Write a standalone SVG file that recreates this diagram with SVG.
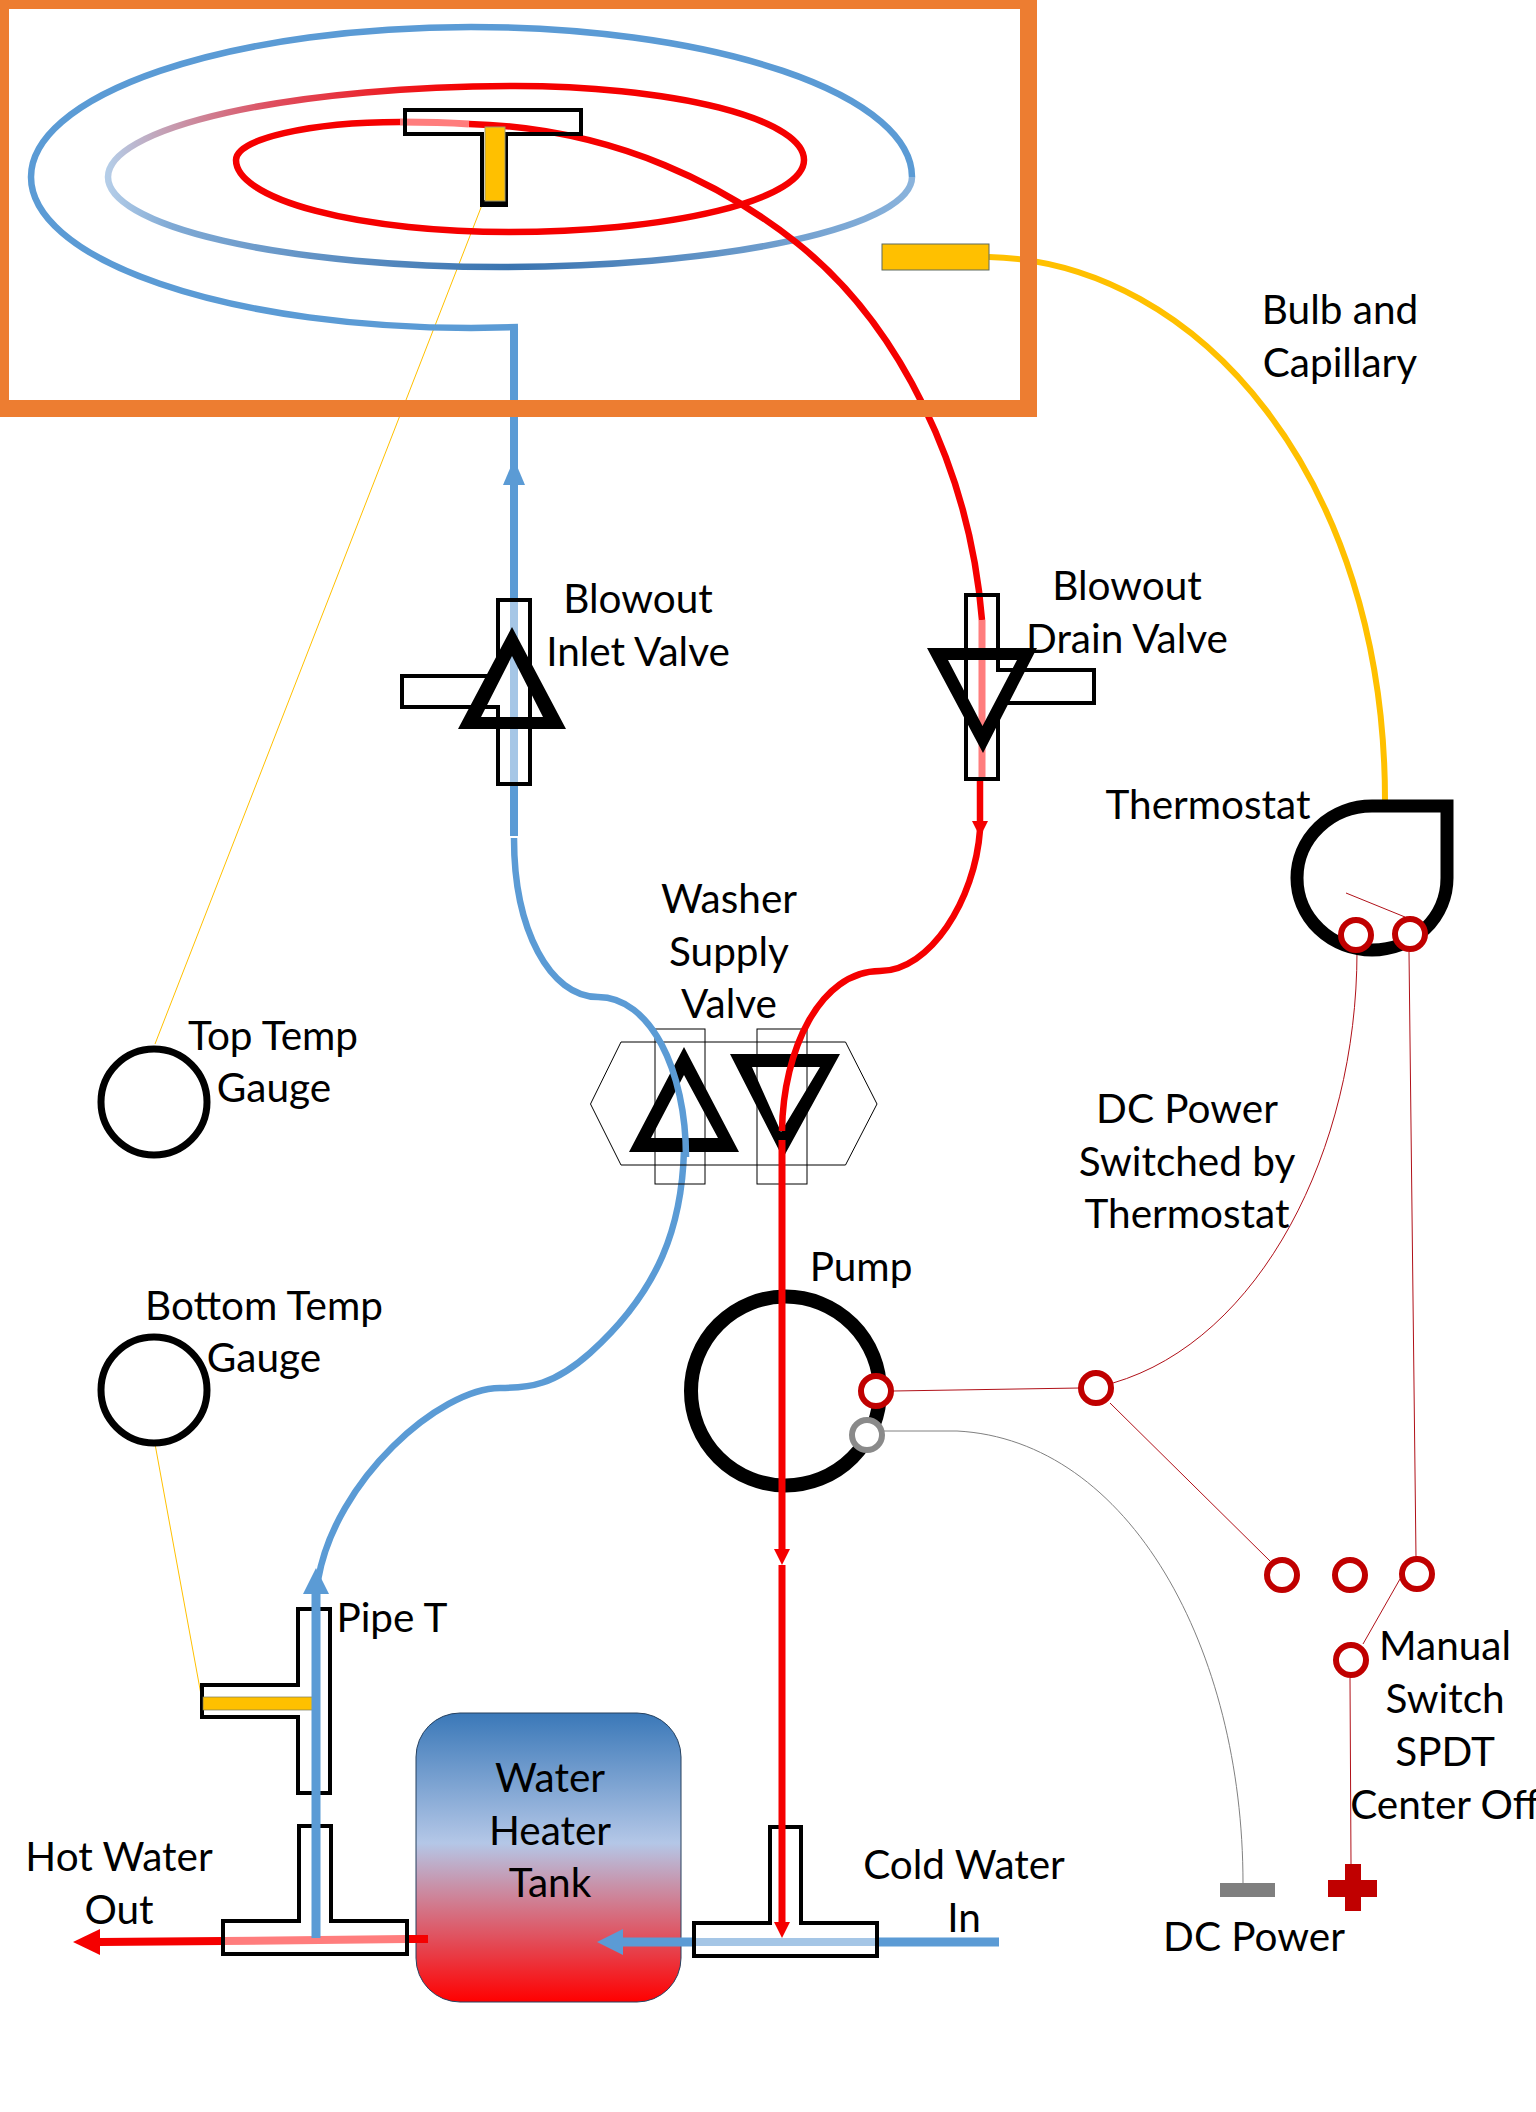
<svg xmlns="http://www.w3.org/2000/svg" width="1536" height="2112" viewBox="0 0 1536 2112">
<style>
text{font-family:"Lato","Carlito","Liberation Sans",sans-serif;font-size:40.5px;fill:#000;text-anchor:middle}
.p{fill:none;stroke-linejoin:miter}
.blue{stroke:#5b9bd5;stroke-width:6.5}
.blue8{stroke:#5b9bd5;stroke-width:8}
.bluew{stroke:#5b9bd5;stroke-width:9}
.lblue{stroke:#a5c6e6;stroke-width:8}
.red{stroke:#f50000;stroke-width:6.5}
.redw{stroke:#f50000;stroke-width:7}
.lred{stroke:#ff7d7d;stroke-width:7}
.hot{stroke:#f50000;stroke-width:8}
.gold{stroke:#ffc000;stroke-width:1}
.wire{stroke:#b01018;stroke-width:1}
.gwire{stroke:#808080;stroke-width:1}
.fit{fill:none;stroke:#000;stroke-width:4;stroke-linejoin:miter}
.thin{fill:none;stroke:#000;stroke-width:1}
.tri{fill:#000;fill-rule:evenodd}
.t{fill:#fff;stroke:#c00000;stroke-width:6}
.tg{fill:#fff;stroke:#8a8a8a;stroke-width:6}
.gauge{fill:#fff;stroke:#000;stroke-width:7}
</style>
<defs>
<linearGradient id="gInnerTop" gradientUnits="userSpaceOnUse" x1="108" y1="0" x2="510" y2="0">
<stop offset="0" stop-color="#b4cde8"/><stop offset=".13" stop-color="#c3a3b8"/><stop offset=".4" stop-color="#de4f60"/><stop offset=".9" stop-color="#f50000"/>
</linearGradient>
<linearGradient id="gInnerBottom" gradientUnits="userSpaceOnUse" x1="108" y1="0" x2="912" y2="0">
<stop offset="0" stop-color="#b4cde8"/><stop offset=".08" stop-color="#7fa9d4"/><stop offset=".5" stop-color="#3a74b0"/><stop offset="1" stop-color="#8ab3dc"/>
</linearGradient>
<linearGradient id="gTank" x1="0" y1="0" x2="0" y2="1">
<stop offset="0" stop-color="#3a78b8"/><stop offset=".45" stop-color="#b4c7e7"/><stop offset="1" stop-color="#ff0000"/>
</linearGradient>
<marker id="aBlue" markerUnits="userSpaceOnUse" markerWidth="26" markerHeight="26" refX="0" refY="13" orient="auto"><path d="M0,0L26,13L0,26z" fill="#5b9bd5"/></marker>
<marker id="aBlueS" markerUnits="userSpaceOnUse" markerWidth="26" markerHeight="22" refX="0" refY="11" orient="auto"><path d="M0,0L26,11L0,22z" fill="#5b9bd5"/></marker>
<marker id="aRed" markerUnits="userSpaceOnUse" markerWidth="27" markerHeight="26" refX="0" refY="13" orient="auto"><path d="M0,0L27,13L0,26z" fill="#f50000"/></marker>
<marker id="aRedS" markerUnits="userSpaceOnUse" markerWidth="16" markerHeight="16" refX="0" refY="8" orient="auto"><path d="M0,0L16,8L0,16z" fill="#f50000"/></marker>
</defs>
<rect width="1536" height="2112" fill="#fff"/>

<g id="tank">
<rect x="416" y="1713" width="265" height="289" rx="44" ry="44" fill="url(#gTank)" stroke="#26415f" stroke-width="1"/>
<text x="550" y="1792">Water</text><text x="550" y="1845">Heater</text><text x="550" y="1897">Tank</text>
</g>

<g id="connectors">
<path class="p gold" d="M482,205L155,1044"/>
<path class="p gold" d="M155,1444L202,1700"/>
<path class="p blue" d="M912,177A441,150 0 0 0 471,27A440,150 0 0 0 31,177A440,151 0 0 0 471,328L518,327"/>
<path class="p" stroke="url(#gInnerBottom)" stroke-width="6.5" d="M912,177A412,90 0 0 1 500,267A392,90 0 0 1 108,177"/>
<path class="p" stroke="url(#gInnerTop)" stroke-width="6.5" d="M108,177A407,91 0 0 1 515,86"/>
<path class="p red" d="M515,86A289,74 0 0 1 804,160A295,72 0 0 1 509,232A273,72 0 0 1 236,160A164,38 0 0 1 400,122"/>
<path class="p lred" d="M400,122Q440,122 469,124"/>
<path class="p red" d="M469,124C620,128 730,190 797,243C900,325 970,470 982,620"/>
<path class="p blue8" d="M514,600V485" marker-end="url(#aBlueS)"/>
<path class="p blue8" d="M514,485V328"/>
<path class="p lblue" d="M514,600V784"/>
<path class="p blue8" d="M514,784V836"/>
<path class="p lred" d="M982,620V779"/>
<path class="p red" d="M980,779V821" marker-end="url(#aRedS)"/>
<path class="p hot" d="M100,1942L223,1941"/>
<polygon points="73,1942 100,1929 100,1955" fill="#f50000"/>
<path class="p" stroke="#ff7d7d" stroke-width="8" d="M223,1941L407,1939"/>
<path class="p hot" d="M407,1939H428"/>
<path class="p bluew" d="M999,1942H877"/>
<path class="p lblue" d="M877,1942H694"/>
<path class="p bluew" d="M694,1942H623" marker-end="url(#aBlue)"/>
<path class="p blue" d="M684,1150C682,1225 660,1290 590,1353C554,1385 530,1388 500,1388C440,1388 335,1480 318,1580"/>
<path class="p" stroke="#ffc000" stroke-width="6" d="M989,257C1200,262 1385,480 1385,800"/>
<path class="p wire" d="M893,1391L1080,1388"/>
<path class="p wire" d="M1113,1383C1260,1340 1357,1150 1357,952"/>
<path class="p wire" d="M1110,1403L1270,1561"/>
<path class="p wire" d="M1409,952L1416,1558"/>
<path class="p wire" d="M1400,1579L1363,1644"/>
<path class="p wire" d="M1350,1678L1351,1864"/>
<path class="p gwire" d="M883,1431H957C1130,1440 1243,1650 1243,1883"/>
</g>

<g id="tee-out"><path class="fit" d="M299,1826H331V1921H407V1954H223V1921H299Z"/></g>
<g id="tee-in"><path class="fit" d="M770,1827H801V1923H877V1956H694V1923H770Z"/></g>
<g id="pipe-t"><path class="fit" d="M298,1609H330V1793H298V1717H202V1685H298Z"/>
<rect x="203" y="1697" width="110" height="13" fill="#ffc000" stroke="#7a7a5a" stroke-width=".7"/></g>

<g id="sensor-t">
<path class="fit" d="M405,110H581V134H506V205H482V134H405Z"/>
<rect x="482" y="200" width="24" height="6" fill="#000"/>
<rect x="485" y="127" width="20" height="74" fill="#ffc000" stroke="#a09a70" stroke-width="1"/>
</g>
<g id="bulb"><rect x="882" y="244" width="107" height="26" fill="#ffc000" stroke="#5f6b5f" stroke-width="1"/></g>

<g id="inlet-valve"><path class="fit" d="M498,600H530V784H498V707H402V676H498Z"/>
<path class="tri" d="M512,627L566,729H458ZM512,656L481,717H543Z"/>
<text x="638" y="613">Blowout</text><text x="638" y="666">Inlet Valve</text></g>
<g id="drain-valve"><path class="fit" d="M966,595H998V670H1094V703H998V779H966Z"/>
<path class="tri" d="M927,648H1037L983,753ZM948,660L982.5,726L1017,660Z"/>
<text x="1127" y="600">Blowout</text><text x="1127" y="653">Drain Valve</text></g>
<g id="washer-valve">
<path class="thin" d="M590.5,1104L621,1042H845.5L877,1104L845.5,1165H621Z"/>
<rect class="thin" x="655" y="1029" width="50" height="155"/>
<rect class="thin" x="757" y="1029" width="50" height="155"/>
<path class="tri" d="M684,1047L739,1152H629ZM684,1075L651,1138H718Z"/>
<path class="tri" d="M730,1054H840L783,1158ZM752,1067L781,1132L820,1067Z"/>
<text x="729" y="913">Washer</text><text x="729" y="966">Supply</text><text x="729" y="1018">Valve</text>
</g>
<g id="pump"><circle cx="785.5" cy="1391" r="94.5" fill="none" stroke="#000" stroke-width="14"/>
<circle class="t" cx="876" cy="1391" r="15"/><circle class="tg" cx="867" cy="1435" r="15"/>
<text x="861" y="1281">Pump</text></g>

<g id="connectors-over">
<path class="p blue" d="M514,838C514,930 550,997 598,997C650,997 686,1070 686,1157"/>
<path class="p red" d="M980,830C975,900 930,971 880,971C820,971 783,1050 782,1131"/>
<path class="p redw" d="M782,1140V1549" marker-end="url(#aRedS)"/>
<path class="p redw" d="M782,1565V1922" marker-end="url(#aRedS)"/>
<path class="p bluew" d="M316,1938V1594" marker-end="url(#aBlue)"/>
</g>

<g id="junction"><circle class="t" cx="1096" cy="1388" r="15"/></g>
<g id="thermostat"><path d="M1447,806H1372A75,72 0 1 0 1447,878Z" fill="none" stroke="#000" stroke-width="13" stroke-linejoin="miter"/>
<path class="p wire" d="M1346,893L1405,917"/>
<circle class="t" cx="1356" cy="935" r="15"/><circle class="t" cx="1410" cy="934" r="15"/>
<text x="1208" y="819">Thermostat</text></g>
<g id="switch"><circle class="t" cx="1282" cy="1575" r="15"/><circle class="t" cx="1350" cy="1575" r="15"/><circle class="t" cx="1417" cy="1574" r="15"/><circle class="t" cx="1351" cy="1660" r="15"/>
<text x="1445" y="1660">Manual</text><text x="1445" y="1713">Switch</text><text x="1445" y="1766">SPDT</text><text x="1445" y="1819">Center Off</text></g>
<g id="dc-power"><rect x="1220" y="1883" width="55" height="14" fill="#7f7f7f"/><path d="M1345,1864H1361V1880H1377V1897H1361V1911H1345V1897H1328V1880H1345Z" fill="#c00000"/>
<text x="1254" y="1951">DC Power</text></g>
<g id="top-gauge"><circle class="gauge" cx="154" cy="1102" r="53"/><text x="273" y="1050">Top Temp</text><text x="274" y="1102">Gauge</text></g>
<g id="bottom-gauge"><circle class="gauge" cx="154" cy="1390" r="53"/><text x="264" y="1320">Bottom Temp</text><text x="264" y="1372">Gauge</text></g>
<g id="labels">
<text x="1340" y="324">Bulb and</text><text x="1340" y="377">Capillary</text>
<text x="1187" y="1123">DC Power</text><text x="1187" y="1176">Switched by</text><text x="1187" y="1228">Thermostat</text>
<text x="392" y="1632">Pipe T</text>
<text x="119" y="1871">Hot Water</text><text x="119" y="1924">Out</text>
<text x="964" y="1879">Cold Water</text><text x="964" y="1932">In</text>
</g>
<g id="enclosure"><rect x=".5" y=".5" width="1028" height="408" fill="none" stroke="#ed7d31" stroke-width="17"/></g>
</svg>
